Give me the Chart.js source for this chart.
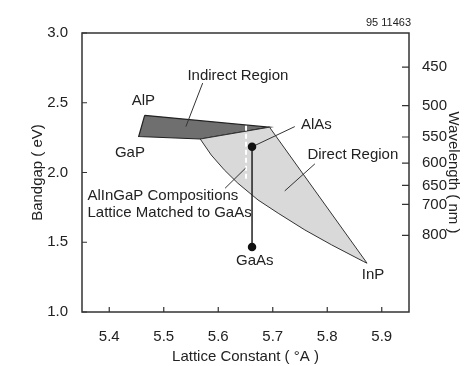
<!DOCTYPE html>
<html>
<head>
<meta charset="utf-8">
<script src="https://cdn.jsdelivr.net/npm/chart.js@4/dist/chart.umd.min.js"></script>
<style>
  html, body { margin: 0; padding: 0; background: #fff; }
  #wrap { width: 474px; height: 366px; }
</style>
</head>
<body>
<div id="wrap"><canvas id="c"></canvas></div>
<script>
// region outlines (lattice constant in A, bandgap in eV)
const indirectX = [5.465, 5.694, 5.567, 5.454, 5.465];
const indirectY = [2.41, 2.325, 2.24, 2.258, 2.41];
const directX = [5.567, 5.694, 5.873, 5.867, 5.808, 5.759, 5.710, 5.673, 5.636, 5.611, 5.587, 5.567];
const directY = [2.24, 2.325, 1.35, 1.361, 1.481, 1.588, 1.708, 1.803, 1.923, 2.019, 2.126, 2.24];
const matchedX = [5.651, 5.651];
const matchedY = [2.335, 1.95];
const gaasX = [5.662, 5.662];
const gaasY = [2.184, 1.466];

const xTicks = [5.4, 5.5, 5.6, 5.7, 5.8, 5.9];
const yTicks = [1.0, 1.5, 2.0, 2.5, 3.0];
const wavelengths = [450, 500, 550, 600, 650, 700, 800];

// annotation text, anchored in data units
const labels = [
  { text: 'Indirect Region', x: 5.636, y: 2.695 },
  { text: 'AlP', x: 5.4625, y: 2.516 },
  { text: 'GaP', x: 5.438, y: 2.143 },
  { text: 'AlAs', x: 5.780, y: 2.341 },
  { text: 'Direct Region', x: 5.847, y: 2.124 },
  { text: 'AlInGaP Compositions', x: 5.360, y: 1.834, align: 'left' },
  { text: 'Lattice Matched to GaAs', x: 5.360, y: 1.708, align: 'left' },
  { text: 'GaAs', x: 5.667, y: 1.368 },
  { text: 'InP', x: 5.884, y: 1.263 }
];
const leaders = [
  [[5.5714, 2.641], [5.5406, 2.329]],
  [[5.662, 2.184], [5.7404, 2.329]],
  [[5.7773, 2.062], [5.722, 1.868]],
  [[5.6125, 1.887], [5.650, 2.031]]
];

const pts = (xs, ys) => xs.map((x, i) => ({ x, y: ys[i] }));
const FONT = '"Liberation Sans", Arial, sans-serif';
const INK = '#222';

// higher order = drawn further back
const datasets = [
  { data: pts(indirectX, indirectY), order: 10, showLine: true, fill: 'shape', backgroundColor: '#6f6f6f',
    borderColor: '#222', borderWidth: 1.2, pointRadius: 0, tension: 0 },
  { data: pts(directX, directY), order: 9, showLine: true, fill: 'shape', backgroundColor: '#d9d9d9',
    borderColor: '#333', borderWidth: 1, pointRadius: 0, tension: 0 },
  { data: pts(matchedX, matchedY), order: 5, showLine: true, borderColor: '#fff', borderWidth: 2,
    borderDash: [5, 3], pointRadius: 0 },
  { data: pts(gaasX, gaasY), order: 1, showLine: true, borderColor: '#222', borderWidth: 1.5,
    pointRadius: 3.5, pointBackgroundColor: '#111', pointBorderColor: '#111' }
];
leaders.forEach(l => datasets.push({
  data: l.map(p => ({ x: p[0], y: p[1] })), order: 2, showLine: true, borderColor: '#333',
  borderWidth: 1, pointRadius: 0
}));

const decor = {
  id: 'decor',
  afterDatasetsDraw(chart) {
    const { ctx, chartArea: a, scales } = chart;
    ctx.save();
    ctx.fillStyle = INK;
    ctx.font = '15px ' + FONT;
    ctx.textBaseline = 'middle';
    labels.forEach(l => {
      ctx.textAlign = l.align || 'center';
      ctx.fillText(l.text, scales.x.getPixelForValue(l.x), scales.y.getPixelForValue(l.y));
    });
    // frame and inner ticks
    ctx.strokeStyle = '#333';
    ctx.lineWidth = 1.5;
    ctx.strokeRect(a.left, a.top, a.right - a.left, a.bottom - a.top);
    ctx.lineWidth = 1.2;
    ctx.beginPath();
    scales.x.ticks.forEach(t => {
      const px = scales.x.getPixelForValue(t.value);
      ctx.moveTo(px, a.bottom); ctx.lineTo(px, a.bottom - 5);
    });
    scales.y.ticks.forEach(t => {
      const py = scales.y.getPixelForValue(t.value);
      ctx.moveTo(a.left, py); ctx.lineTo(a.left + 5, py);
    });
    scales.y2.ticks.forEach(t => {
      const py = scales.y2.getPixelForValue(t.value);
      ctx.moveTo(a.right, py); ctx.lineTo(a.right - 7, py);
    });
    ctx.stroke();
    ctx.font = '11px ' + FONT;
    ctx.textAlign = 'right';
    ctx.textBaseline = 'alphabetic';
    ctx.fillText('95 11463', a.right + 2, a.top - 7);
    ctx.restore();
  }
};

new Chart(document.getElementById('c'), {
  type: 'scatter',
  data: { datasets },
  plugins: [decor],
  options: {
    responsive: true,
    maintainAspectRatio: false,
    animation: false,
    layout: { padding: { top: 33, left: 0, right: 0, bottom: 0 } },
    plugins: { legend: { display: false }, tooltip: { enabled: false } },
    scales: {
      x: {
        type: 'linear', min: 5.35, max: 5.95,
        afterBuildTicks: s => { s.ticks = xTicks.map(v => ({ value: v })); },
        afterFit: s => { s.height = 54; },
        grid: { display: false }, border: { display: false },
        ticks: { color: INK, font: { size: 15, family: FONT }, padding: 8, callback: v => v.toFixed(1) },
        title: { display: true, text: 'Lattice Constant ( °A )', color: INK,
          font: { size: 15, family: FONT }, padding: { top: 9, bottom: 0 } }
      },
      y: {
        type: 'linear', position: 'left', min: 1, max: 3,
        afterBuildTicks: s => { s.ticks = yTicks.map(v => ({ value: v })); },
        afterFit: s => { s.width = 82; },
        grid: { display: false }, border: { display: false },
        ticks: { color: INK, font: { size: 15, family: FONT }, padding: 6, callback: v => v.toFixed(1) },
        title: { display: true, text: 'Bandgap ( eV)', color: INK,
          font: { size: 15, family: FONT }, padding: { top: 29, bottom: 0 } }
      },
      y2: {
        type: 'linear', position: 'right', min: 1, max: 3,
        afterBuildTicks: s => { s.ticks = wavelengths.map(w => ({ value: 1240 / w })); },
        afterFit: s => { s.width = 65; },
        grid: { display: false }, border: { display: false },
        ticks: { color: INK, font: { size: 15, family: FONT }, padding: 5, callback: v => String(Math.round(1240 / v)) },
        title: { display: true, text: 'Wavelength ( nm )', color: INK,
          font: { size: 15, family: FONT }, padding: { top: 12, bottom: 0 } }
      }
    }
  }
});
</script>
</body>
</html>
